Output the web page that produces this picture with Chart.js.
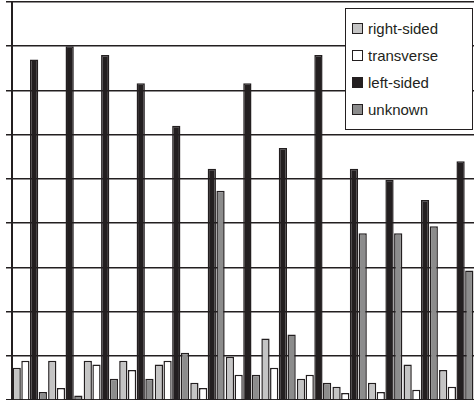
<!DOCTYPE html>
<html>
<head>
<script src="https://cdn.jsdelivr.net/npm/chart.js@4/dist/chart.umd.min.js"></script>
<style>
  body { margin: 0; background: #fff; }
  #wrap { position: relative; width: 474px; height: 400px; }
  #legend {
    position: absolute; left: 345px; top: 8px; width: 120px; padding: 6px 0 6px 6px;
    border: 1.5px solid #231f20; background: #fff;
    font-family: "Liberation Sans", Arial, sans-serif; font-size: 15px; color: #231f20;
  }
  #legend div { display: flex; align-items: center; height: 27px; }
  #legend span { display: inline-block; width: 9px; height: 9px; border: 1.5px solid #231f20; margin-right: 5px; }
</style>
</head>
<body>
<div id="wrap">
  <canvas id="chart" width="474" height="400"></canvas>
  <div id="legend"></div>
</div>
<script>
const categories = ["1", "2", "3", "4", "5", "6", "7", "8", "9", "10", "11", "12", "13"];
const rightSided = [0.73, 0.89, 0.89, 0.89, 0.8, 0.39, 0.98, 1.39, 0.48, 0.3, 0.39, 0.8, 0.68];
const transverse = [0.89, 0.27, 0.8, 0.68, 0.89, 0.27, 0.57, 0.73, 0.57, 0.16, 0.18, 0.23, 0.3];
const leftSided = [7.7, 8.0, 7.8, 7.16, 6.2, 5.23, 7.16, 5.7, 7.8, 5.23, 4.98, 4.52, 5.4];
const unknown = [0.18, 0.1, 0.48, 0.48, 1.07, 4.73, 0.57, 1.48, 0.39, 3.77, 3.77, 3.93, 2.93];

const series = [
  { label: "right-sided", data: rightSided, color: "#c4c4c4" },
  { label: "transverse", data: transverse, color: "#ffffff" },
  { label: "left-sided", data: leftSided, color: "#231f20" },
  { label: "unknown", data: unknown, color: "#8c8c8c" },
];

document.getElementById("legend").innerHTML = series
  .map((s) => '<div><span style="background:' + s.color + '"></span>' + s.label + "</div>")
  .join("");

new Chart(document.getElementById("chart").getContext("2d"), {
  type: "bar",
  data: {
    labels: categories,
    datasets: series.map((s) => ({
      label: s.label,
      data: s.data,
      backgroundColor: s.color,
      borderColor: "#231f20",
      borderWidth: 1.5,
    })),
  },
  options: {
    responsive: false,
    animation: false,
    layout: { padding: { left: 6, top: 2, right: 0, bottom: 0 } },
    plugins: { legend: { display: false }, tooltip: { enabled: false } },
    datasets: { bar: { categoryPercentage: 0.98, barPercentage: 0.95 } },
    scales: {
      x: {
        ticks: { display: false, padding: 0 },
        grid: { display: false, drawTicks: false },
        border: { color: "#231f20", width: 2 },
      },
      y: {
        min: 0,
        max: 9,
        ticks: { display: false, stepSize: 1 },
        grid: { color: "#231f20", lineWidth: 1.5, drawTicks: true, tickLength: 6 },
        border: { color: "#231f20", width: 2 },
      },
    },
  },
});
</script>
</body>
</html>
